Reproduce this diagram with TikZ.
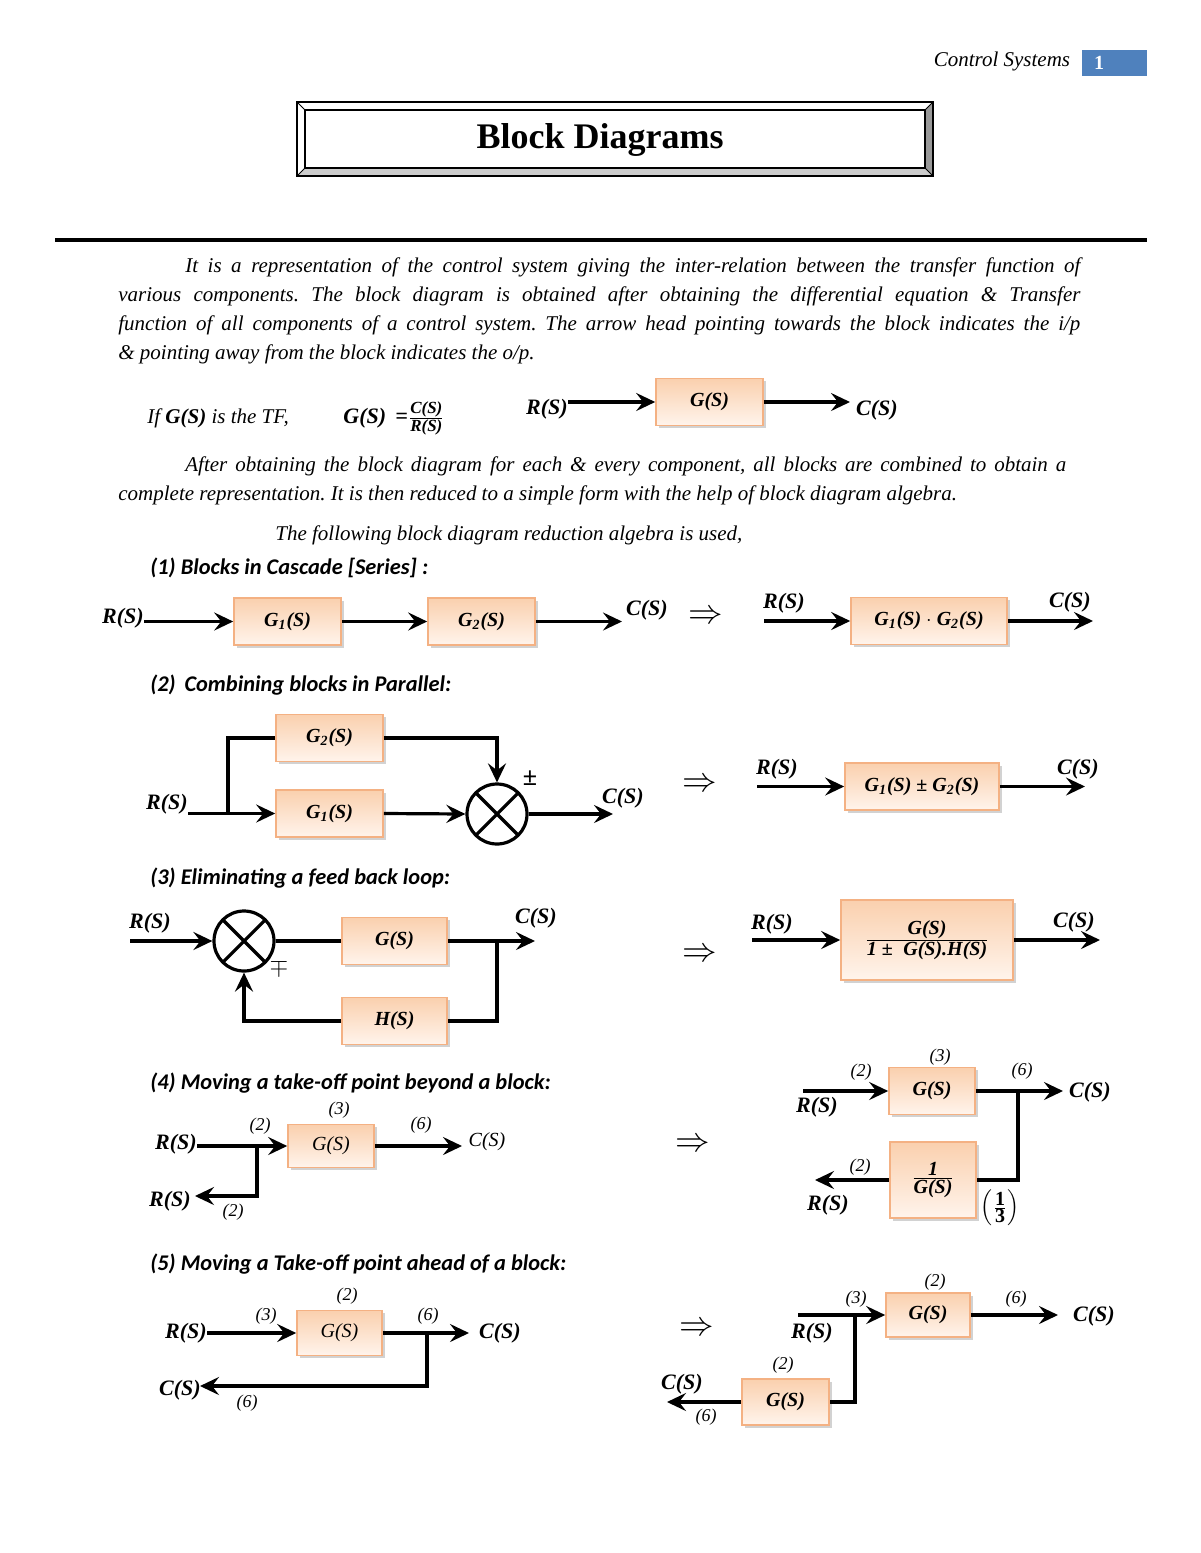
\documentclass[tikz,border=0pt]{standalone}
\usepackage{fontspec}
\setmainfont{Liberation Serif}
\newfontfamily\headfont{Carlito}
\usetikzlibrary{arrows.meta,shadows,positioning}
\frenchspacing

\definecolor{blkline}{HTML}{F4B183}
\definecolor{blktop}{HTML}{FAD0AE}
\definecolor{blkbot}{HTML}{FFF4EC}
\definecolor{pgblue}{HTML}{4F81BD}

\tikzset{
  blk/.style={draw=blkline, line width=0.8pt, top color=blktop, bottom color=blkbot,
    drop shadow={shadow xshift=1.3pt, shadow yshift=-1.3pt, fill=black!35},
    minimum width=53.5pt, minimum height=23.5pt, inner sep=1pt,
    font=\bfseries\itshape\fontsize{10}{12}\selectfont},
  sig/.style={line width=1.6pt, -{Stealth[length=9.5pt,width=9pt,inset=3.5pt]}},
  wire/.style={line width=1.6pt},
  lbl/.style={font=\bfseries\itshape\fontsize{11}{13}\selectfont, inner sep=0pt},
  num/.style={font=\itshape\fontsize{9}{11}\selectfont, inner sep=0pt},
  imp/.style={font=\bfseries\fontsize{18}{20}\selectfont, inner sep=0pt},
  head/.style={font=\headfont\bfseries\itshape\fontsize{11.2}{13}\selectfont, anchor=west, inner sep=0pt},
  junc/.style={circle, draw, line width=1.6pt, minimum size=30pt, inner sep=0pt,
    path picture={\draw[line width=1.6pt]
      (path picture bounding box.north west) -- (path picture bounding box.south east)
      (path picture bounding box.north east) -- (path picture bounding box.south west);}},
}

\begin{document}
\begin{tikzpicture}[x=0.5pt, y=-0.5pt]
  \fill[white] (0,0) rectangle (1200,1553);
  \useasboundingbox (0,0) rectangle (1200,1553);

  % header
  \node[font=\itshape\fontsize{10.5}{12}\selectfont] (hdr) at (1002,61) {Control Systems};
  \fill[pgblue] (1082,50) rectangle (1147,76);
  \node[white, font=\bfseries\fontsize{10}{12}\selectfont] (pgno) at (1099,63) {1};

  % title box
  \fill[white] (297,102) -- (933,102) -- (925,110) -- (305,110) -- cycle;
  \fill[white] (297,102) -- (305,110) -- (305,168) -- (297,176) -- cycle;
  \fill[black!40] (933,102) -- (933,176) -- (925,168) -- (925,110) -- cycle;
  \fill[black!20] (297,176) -- (933,176) -- (925,168) -- (305,168) -- cycle;
  \draw[line width=0.6pt] (297,102) rectangle (933,176);
  \draw[line width=0.6pt] (305,110) rectangle (925,168);
  \draw[line width=0.4pt] (297,102) -- (305,110) (933,102) -- (925,110)
    (297,176) -- (305,168) (933,176) -- (925,168);
  \node[font=\bfseries\fontsize{18}{22}\selectfont] (ttl) at (600,140) {Block Diagrams};

  \draw[line width=1.6pt] (55,240) -- (1147,240);

  \node[anchor=north west, text width=481pt, align=justify, inner sep=0pt,
        font=\itshape\fontsize{10.5}{14.5}\selectfont] (para1) at (118,257)
    {\hspace*{33.5pt}It is a representation of the control system giving the inter-relation between the transfer function of\linebreak
     various components. The block diagram is obtained after obtaining the differential equation \& Transfer\linebreak
     function of all components of a control system. The arrow head pointing towards the block indicates the i/p\linebreak
     \& pointing away from the block indicates the o/p.};

  % G(S) = C(S)/R(S)
  \node[anchor=west, inner sep=0pt, font=\itshape\fontsize{10.5}{12}\selectfont] (ifG) at (147,418)
    {If {\bfseries G(S)} is the TF,};
  \node[anchor=west, inner sep=0pt, font=\bfseries\itshape\fontsize{11}{13}\selectfont] (tfEq) at (343,418)
    {G(S) \,=$\frac{\hbox{\fontsize{8.5}{9}\selectfont\bfseries\itshape C(S)}}{\hbox{\fontsize{8.5}{9}\selectfont\bfseries\itshape R(S)}}$};
  \node[blk] (tfG) at (709.5,402) {G(S)};
  \node[lbl] (tfR) at (547,409) {R(S)};
  \node[lbl] (tfC) at (877,410) {C(S)};
  \coordinate (tfOut) at (850,402);
  \draw[sig] (tfR.east |- tfG.west) -- (tfG.west);
  \draw[sig] (tfG.east) -- (tfOut);

  \node[anchor=north west, text width=474pt, align=justify, inner sep=0pt,
        font=\itshape\fontsize{10.5}{14.5}\selectfont] (para2) at (118,456)
    {\hspace*{33.5pt}After obtaining the block diagram for each \& every component, all blocks are combined to obtain a\linebreak
     complete representation. It is then reduced to a simple form with the help of block diagram algebra.};
  \node[anchor=west, inner sep=0pt, font=\itshape\fontsize{10.5}{12}\selectfont] (para3) at (275,535)
    {The following block diagram reduction algebra is used,};

  % (1) cascade
  \node[head] (h1) at (150,568) {(1) Blocks in Cascade [Series] :};
  \node[lbl] (casR) at (123,618) {R(S)};
  \node[blk] (casG1) at (287.5,621.5) {G\textsubscript{1}(S)};
  \node[blk] (casG2) at (481.5,621.5) {G\textsubscript{2}(S)};
  \node[lbl] (casC) at (647,610) {C(S)};
  \coordinate (casOut) at (622,621.5);
  \draw[sig] (casR.east |- casG1.west) -- (casG1.west);
  \draw[sig] (casG1.east) -- (casG2.west);
  \draw[sig] (casG2.east) -- (casOut);
  \node[imp] (casImp) at (706,617) {$\Rightarrow$};
  \node[lbl] (casR2) at (784,603) {R(S)};
  \node[blk, minimum width=78pt] (casGG) at (929,621) {G\textsubscript{1}(S) $\cdot$ G\textsubscript{2}(S)};
  \node[lbl] (casC2) at (1070,602) {C(S)};
  \coordinate (casIn2) at (764,621);
  \coordinate (casOut2) at (1093,621);
  \draw[sig] (casIn2) -- (casGG.west);
  \draw[sig] (casGG.east) -- (casOut2);

  % (2) parallel
  \node[head] (h2) at (150,685) {(2)\, Combining blocks in Parallel:};
  \node[blk] (parG2) at (329.5,738) {G\textsubscript{2}(S)};
  \node[blk] (parG1) at (329.5,813.5) {G\textsubscript{1}(S)};
  \node[lbl] (parR) at (167,804) {R(S)};
  \node[junc] (parS) at (497,814) {};
  \node[lbl, font=\bfseries\fontsize{13}{14}\selectfont] (parPM) at (530,778) {±};
  \node[lbl] (parC) at (623,798) {C(S)};
  \coordinate (parB) at (228,813.5);
  \coordinate (parOut) at (613,814);
  \draw[sig] (parR.east |- parG1.west) -- (parG1.west);
  \draw[wire] (parB) |- (parG2.west);
  \draw[sig] (parG2.east) -| (parS.north);
  \draw[sig] (parG1.east) -- (parS.west);
  \draw[sig] (parS.east) -- (parOut);
  \node[imp] (parImp) at (700,785) {$\Rightarrow$};
  \node[lbl] (parR2) at (777,769) {R(S)};
  \node[blk, minimum width=77pt] (parGG) at (922,786.5) {G\textsubscript{1}(S) ± G\textsubscript{2}(S)};
  \node[lbl] (parC2) at (1078,769) {C(S)};
  \coordinate (parIn2) at (757,786.5);
  \coordinate (parOut2) at (1085,786.5);
  \draw[sig] (parIn2) -- (parGG.west);
  \draw[sig] (parGG.east) -- (parOut2);

  % (3) feedback loop
  \node[head] (h3) at (150,878) {(3) Eliminating a feed back loop:};
  \node[lbl] (fbR) at (150,923) {R(S)};
  \node[junc] (fbS) at (244,941) {};
  \node[blk, minimum width=52.5pt] (fbG) at (394.5,941) {G(S)};
  \node[blk, minimum width=52.5pt] (fbH) at (394.5,1021) {H(S)};
  \node[lbl] (fbC) at (536,918) {C(S)};
  \node[lbl, font=\fontsize{13}{14}\selectfont] (fbMP) at (279,967) {$\mp$};
  \coordinate (fbIn) at (130,941);
  \coordinate (fbB) at (497,941);
  \coordinate (fbOut) at (535,941);
  \draw[sig] (fbIn) -- (fbS.west);
  \draw[wire] (fbS.east) -- (fbG.west);
  \draw[sig] (fbG.east) -- (fbOut);
  \draw[wire] (fbB) |- (fbH.east);
  \draw[sig] (fbH.west) -| (fbS.south);
  \node[imp] (fbImp) at (700,955) {$\Rightarrow$};
  \node[lbl] (fbR2) at (772,924) {R(S)};
  \node[blk, minimum width=86pt, minimum height=40pt] (fbGG) at (927,940)
    {$\frac{\hbox{\bfseries\itshape G(S)}}{\hbox{\bfseries\itshape 1 ±\; G(S).H(S)}}$};
  \node[lbl] (fbC2) at (1074,922) {C(S)};
  \coordinate (fbIn2) at (752,940);
  \coordinate (fbOut2) at (1100,940);
  \draw[sig] (fbIn2) -- (fbGG.west);
  \draw[sig] (fbGG.east) -- (fbOut2);

  % (4) take-off point beyond a block
  \node[head] (h4) at (150,1083) {(4) Moving a take-off point beyond a block:};
  \node[lbl] (toR) at (176,1144) {R(S)};
  \node[blk, minimum width=43pt, minimum height=21.5pt, font=\itshape\fontsize{10}{12}\selectfont] (toG) at (331,1146) {G(S)};
  \node[font=\itshape\fontsize{10}{12}\selectfont, inner sep=0pt] (toC) at (487,1142) {C(S)};
  \node[lbl] (toR2) at (170,1201) {R(S)};
  \node[num] (toN1) at (260,1126) {(2)};
  \node[num] (toN2) at (339,1110) {(3)};
  \node[num] (toN3) at (421,1125) {(6)};
  \node[num] (toN4) at (233,1212) {(2)};
  \coordinate (toB) at (257,1146);
  \coordinate (toOut) at (462,1146);
  \coordinate (toRet) at (195,1196);
  \draw[sig] (toR.east |- toG.west) -- (toG.west);
  \draw[sig] (toG.east) -- (toOut);
  \draw[sig] (toB) |- (toRet);
  \node[imp] (toImp) at (693,1145) {$\Rightarrow$};
  \node[blk, minimum width=43pt] (tbG) at (932,1091) {G(S)};
  \node[blk, minimum width=43pt, minimum height=38pt] (tbInv) at (933,1180)
    {$\frac{\hbox{\bfseries 1}}{\hbox{\bfseries\itshape G(S)}}$};
  \node[lbl] (tbR) at (817,1107) {R(S)};
  \node[lbl] (tbC) at (1090,1092) {C(S)};
  \node[lbl] (tbR2) at (828,1205) {R(S)};
  \node[num] (tbN1) at (861,1072) {(2)};
  \node[num] (tbN2) at (940,1057) {(3)};
  \node[num] (tbN3) at (1022,1071) {(6)};
  \node[num] (tbN4) at (860,1167) {(2)};
  \node[inner sep=0pt] (tbN5) at (1000,1208) {{$\Bigl(\frac{\hbox{\bfseries 1}}{\hbox{\bfseries 3}}\Bigr)$}};
  \coordinate (tbIn) at (803,1091);
  \coordinate (tbB) at (1018,1091);
  \coordinate (tbOut) at (1063,1091);
  \coordinate (tbRet) at (815,1180);
  \draw[sig] (tbIn) -- (tbG.west);
  \draw[sig] (tbG.east) -- (tbOut);
  \draw[wire] (tbB) |- (tbInv.east);
  \draw[sig] (tbInv.west) -- (tbRet);

  % (5) take-off point ahead of a block
  \node[head] (h5) at (150,1264) {(5) Moving a Take-off point ahead of a block:};
  \node[lbl] (taR) at (186,1333) {R(S)};
  \node[blk, minimum width=42.5pt, minimum height=22.5pt, font=\itshape\fontsize{10}{12}\selectfont] (taG) at (339.5,1333) {G(S)};
  \node[lbl] (taC) at (500,1333) {C(S)};
  \node[lbl] (taC2) at (180,1390) {C(S)};
  \node[num] (taN1) at (266,1316) {(3)};
  \node[num] (taN2) at (347,1296) {(2)};
  \node[num] (taN3) at (428,1316) {(6)};
  \node[num] (taN4) at (247,1403) {(6)};
  \coordinate (taB) at (427,1333);
  \coordinate (taOut) at (469,1333);
  \coordinate (taRet) at (200,1386);
  \draw[sig] (taR.east) -- (taG.west);
  \draw[sig] (taG.east) -- (taOut);
  \draw[sig] (taB) |- (taRet);
  \node[imp] (taImp) at (697,1329) {$\Rightarrow$};
  \node[blk, minimum width=42pt, minimum height=22pt] (tcG) at (928,1315) {G(S)};
  \node[blk, minimum width=43.5pt, minimum height=23pt] (tcG2) at (785.5,1402) {G(S)};
  \node[lbl] (tcR) at (812,1333) {R(S)};
  \node[lbl] (tcC) at (1094,1316) {C(S)};
  \node[lbl] (tcC2) at (682,1384) {C(S)};
  \node[num] (tcN1) at (856,1299) {(3)};
  \node[num] (tcN2) at (935,1282) {(2)};
  \node[num] (tcN3) at (1016,1299) {(6)};
  \node[num] (tcN4) at (783,1365) {(2)};
  \node[num] (tcN5) at (706,1417) {(6)};
  \coordinate (tcIn) at (798,1315);
  \coordinate (tcB) at (855,1315);
  \coordinate (tcOut) at (1058,1315);
  \coordinate (tcRet) at (667,1402);
  \draw[sig] (tcIn) -- (tcG.west);
  \draw[sig] (tcG.east) -- (tcOut);
  \draw[wire] (tcB) |- (tcG2.east);
  \draw[sig] (tcG2.west) -- (tcRet);
\end{tikzpicture}
\end{document}
